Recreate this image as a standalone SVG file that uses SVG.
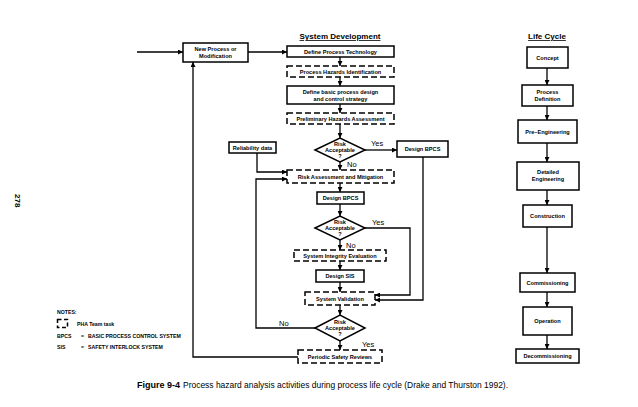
<svg xmlns="http://www.w3.org/2000/svg" width="638" height="407" viewBox="0 0 638 407">
<defs>
<marker id="ah" viewBox="0 0 10 10" refX="10" refY="5" markerWidth="5" markerHeight="5" orient="auto" markerUnits="userSpaceOnUse">
<path d="M0,0 L10,5 L0,10 z" fill="#000"/>
</marker>
</defs>
<style>
.b{fill:#fff;stroke:#000;stroke-width:1.5}
.d{fill:#fff;stroke:#000;stroke-width:1.5;stroke-dasharray:6 3}
.t{font-family:"Liberation Sans Narrow","Liberation Sans",Arial,sans-serif;font-weight:bold;font-size:5.6px;fill:#000;text-anchor:middle}
.h{font-family:"Liberation Sans Narrow","Liberation Sans",Arial,sans-serif;font-weight:bold;font-size:8px;fill:#000;text-anchor:middle;text-decoration:underline}
.l{font-family:"Liberation Sans","Arial",sans-serif;font-size:7.5px;fill:#000}
.n{font-family:"Liberation Sans Narrow","Liberation Sans",Arial,sans-serif;font-weight:bold;font-size:5.2px;fill:#000}
.c{fill:none;stroke:#000;stroke-width:1.3}
.a{fill:none;stroke:#000;stroke-width:1.3;marker-end:url(#ah)}
</style>
<rect width="638" height="407" fill="#fff"/>

<text class="h" x="340" y="39">System Development</text>
<text class="h" x="547" y="39">Life Cycle</text>

<g id="connectors">
<path class="a" d="M137,52 H183"/>
<path class="a" d="M248,52 H287"/>
<path class="a" d="M340,57 V66"/>
<path class="a" d="M340,77 V86"/>
<path class="a" d="M340,104 V113"/>
<path class="a" d="M340,124 V138"/>
<path class="a" d="M365,150 H397"/>
<path class="a" d="M340,162 V170"/>
<path class="a" d="M257,153 V172 H287"/>
<path class="a" d="M340,183 V192"/>
<path class="a" d="M340,204 V216"/>
<path class="a" d="M365,228 H410 V295 H375"/>
<path class="a" d="M423,157 V300 H375"/>
<path class="a" d="M340,240 V250"/>
<path class="a" d="M340,261 V270"/>
<path class="a" d="M340,282 V292"/>
<path class="a" d="M340,305 V315"/>
<path class="a" d="M315,328 H256 V179 H287"/>
<path class="a" d="M340,341 V350"/>
<path class="a" d="M298,357 H193 V62"/>
<path class="a" d="M547,68 V85"/>
<path class="a" d="M547,106 V120"/>
<path class="a" d="M547,143 V162"/>
<path class="a" d="M547,190 V205"/>
<path class="a" d="M547,227 V273"/>
<path class="a" d="M547,292 V307"/>
<path class="a" d="M547,335 V349"/>
<text class="l" x="371" y="146">Yes</text>
<text class="l" x="347" y="167">No</text>
<text class="l" x="372" y="225">Yes</text>
<text class="l" x="346" y="248">No</text>
<text class="l" x="279" y="326">No</text>
<text class="l" x="362" y="347">Yes</text>
</g>

<g id="new-process"><rect class="b" x="183" y="43" width="65" height="19"/><text class="t" x="215.5" y="51">New Process or</text><text class="t" x="215.5" y="58">Modification</text></g>
<g id="define-tech"><rect class="b" x="287" y="46" width="107" height="11"/><text class="t" x="340.5" y="53.5">Define Process Technology</text></g>
<g id="phi"><rect class="d" x="287" y="66" width="107" height="11"/><text class="t" x="340.5" y="73.5">Process Hazards Identification</text></g>
<g id="define-basic"><rect class="b" x="287" y="86" width="107" height="18"/><text class="t" x="340.5" y="93.5">Define basic process design</text><text class="t" x="340.5" y="100.5">and  control strategy</text></g>
<g id="pha"><rect class="d" x="287" y="113" width="107" height="11"/><text class="t" x="340.5" y="120.5">Preliminary Hazards Assessment</text></g>
<g id="risk1"><polygon class="b" points="315,150 340,138 365,150 340,162"/><text class="t" x="340" y="146">Risk</text><text class="t" x="340" y="152">Acceptable</text><text class="t" x="340" y="158">?</text></g>
<g id="reliability"><rect class="b" x="229" y="142" width="47" height="11"/><text class="t" x="252.5" y="149.5">Reliability data</text></g>
<g id="design-bpcs-right"><rect class="b" x="397" y="141" width="51" height="16"/><text class="t" x="422.5" y="151">Design BPCS</text></g>
<g id="risk-assess"><rect class="d" x="287" y="170" width="107" height="13"/><text class="t" x="340.5" y="178.5">Risk Assessment and Mitigation</text></g>
<g id="design-bpcs"><rect class="b" x="317" y="192" width="47" height="12"/><text class="t" x="340.5" y="200">Design BPCS</text></g>
<g id="risk2"><polygon class="b" points="315,228 340,216 365,228 340,240"/><text class="t" x="340" y="224">Risk</text><text class="t" x="340" y="230">Acceptable</text><text class="t" x="340" y="236">?</text></g>
<g id="sie"><rect class="d" x="294" y="250" width="92" height="11"/><text class="t" x="340" y="257.5">System Integrity Evaluation</text></g>
<g id="design-sis"><rect class="b" x="316" y="270" width="48" height="12"/><text class="t" x="340" y="278">Design SIS</text></g>
<g id="validation"><rect class="d" x="305" y="292" width="70" height="13"/><text class="t" x="340" y="300.5">System Validation</text></g>
<g id="risk3"><polygon class="b" points="315,328 340,315 365,328 340,341"/><text class="t" x="340" y="324">Risk</text><text class="t" x="340" y="330">Acceptable</text><text class="t" x="340" y="336">?</text></g>
<g id="periodic"><rect class="d" x="298" y="350" width="84" height="13"/><text class="t" x="340" y="358.5">Periodic Safety Reviews</text></g>

<g id="concept"><rect class="b" x="527" y="47" width="41" height="21"/><text class="t" x="547.5" y="59.5">Concept</text></g>
<g id="process-def"><rect class="b" x="522" y="85" width="51" height="21"/><text class="t" x="547.5" y="94">Process</text><text class="t" x="547.5" y="101">Definition</text></g>
<g id="pre-eng"><rect class="b" x="518" y="120" width="59" height="23"/><text class="t" x="547.5" y="133.5">Pre–Engineering</text></g>
<g id="detailed"><rect class="b" x="517" y="162" width="62" height="28"/><text class="t" x="548" y="174">Detailed</text><text class="t" x="548" y="181">Engineering</text></g>
<g id="construction"><rect class="b" x="523" y="205" width="49" height="22"/><text class="t" x="547.5" y="218">Construction</text></g>
<g id="commissioning"><rect class="b" x="520" y="273" width="55" height="19"/><text class="t" x="547.5" y="284.5">Commissioning</text></g>
<g id="operation"><rect class="b" x="523" y="307" width="49" height="28"/><text class="t" x="547.5" y="323">Operation</text></g>
<g id="decommissioning"><rect class="b" x="516" y="349" width="63" height="14"/><text class="t" x="547.5" y="358">Decommissioning</text></g>

<g id="notes">
<text class="n" x="57" y="314">NOTES:</text>
<rect x="57.5" y="319.5" width="10" height="8" fill="none" stroke="#000" stroke-width="1.5" stroke-dasharray="4 2.5"/>
<text class="n" x="77" y="326">PHA Team task</text>
<text class="n" x="57" y="338">BPCS</text><text class="n" x="81" y="338">=</text><text class="n" x="88" y="338">BASIC PROCESS CONTROL SYSTEM</text>
<text class="n" x="57" y="349">SIS</text><text class="n" x="81" y="349">=</text><text class="n" x="88" y="349">SAFETY INTERLOCK SYSTEM</text>
</g>

<text x="15" y="194" transform="rotate(90 15 194)" font-family="Liberation Sans, Arial, sans-serif" font-weight="bold" font-size="8" fill="#000">278</text>

<text x="137" y="388" font-family="Liberation Sans, Arial, sans-serif" font-size="9" fill="#000"><tspan font-weight="bold">Figure 9-4</tspan></text>
<text x="183" y="388" font-family="Liberation Sans, Arial, sans-serif" font-size="9" fill="#000" textLength="325" lengthAdjust="spacingAndGlyphs">Process hazard analysis activities during process life cycle (Drake and Thurston 1992).</text>
</svg>
